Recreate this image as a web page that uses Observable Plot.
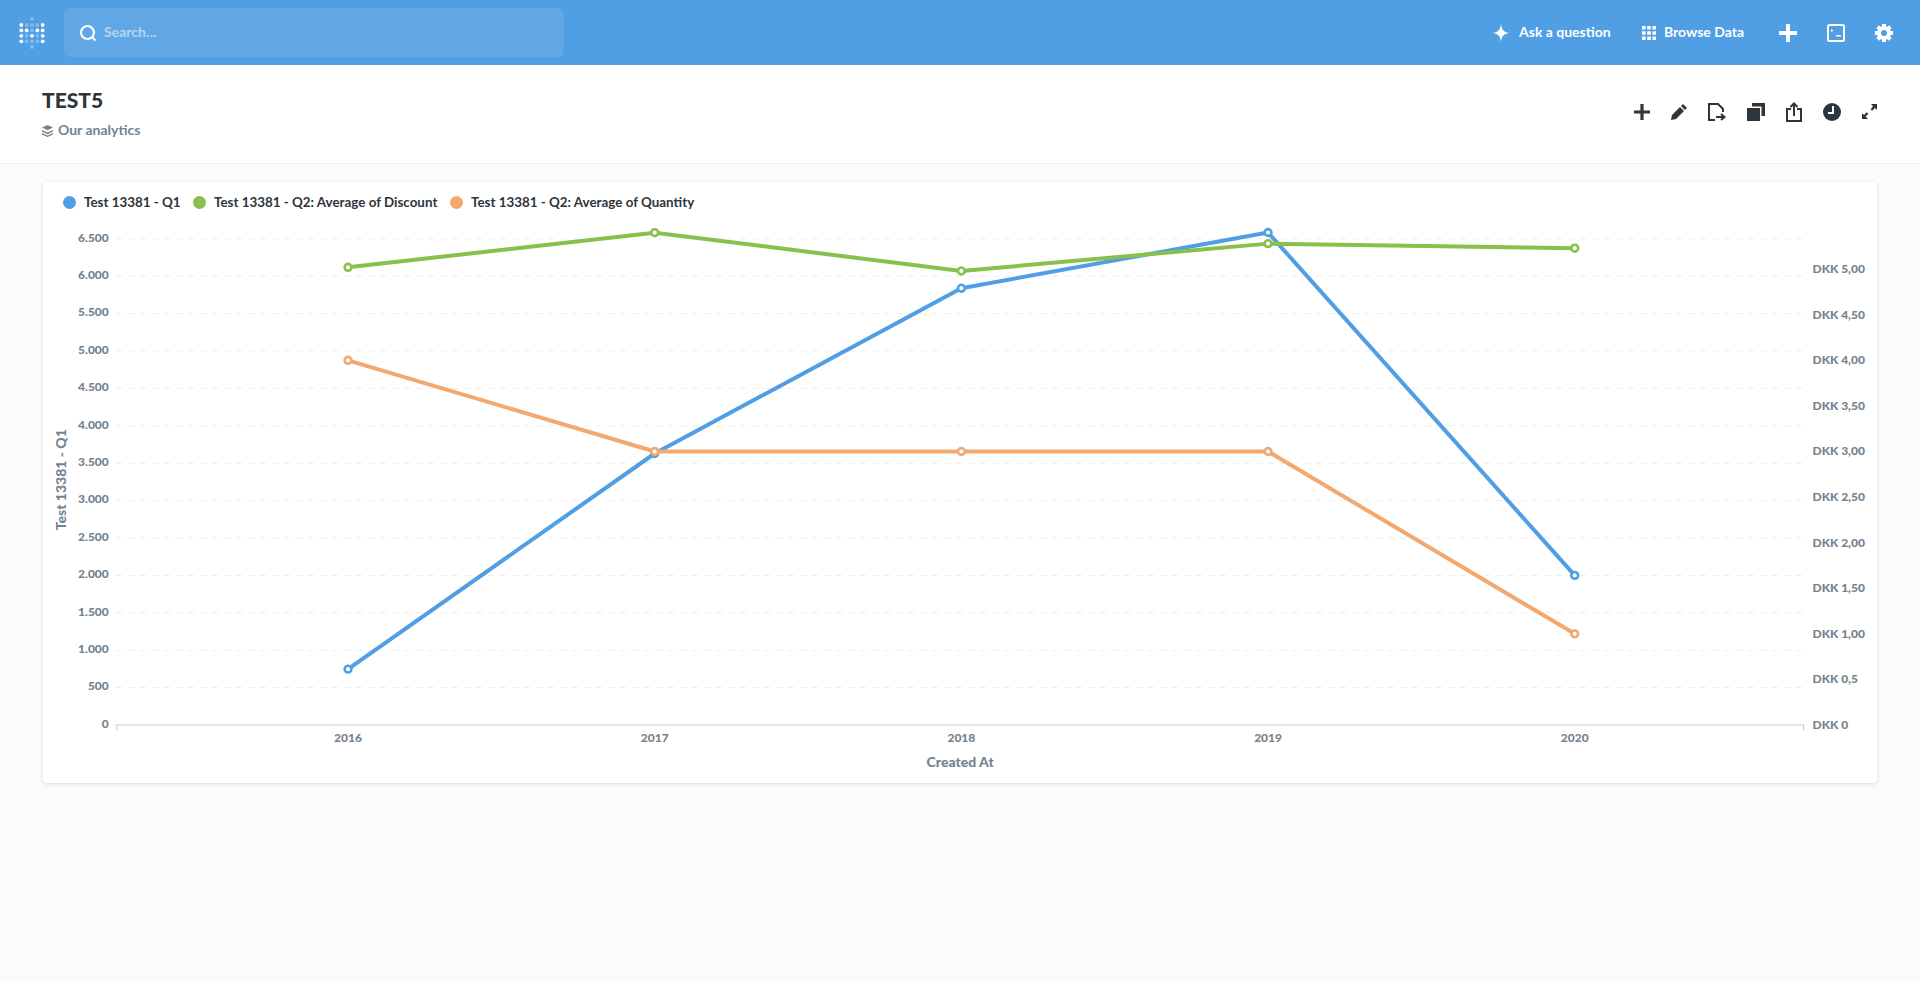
<!DOCTYPE html>
<html>
<head>
<meta charset="utf-8">
<script src="https://cdn.jsdelivr.net/npm/d3@7"></script>
<script src="https://cdn.jsdelivr.net/npm/@observablehq/plot@0.6"></script>
<style>
html,body{margin:0;padding:0;width:1920px;height:982px;overflow:hidden;background:#f9fbfc;font-family:Lato,sans-serif;}
.abs{position:absolute;white-space:nowrap;}
#nav{position:absolute;left:0;top:0;width:1920px;height:65px;background:#509ee3;}
#band{position:absolute;left:0;top:65px;width:1920px;height:98px;background:#fff;border-bottom:1px solid #eceff1;}
#search{position:absolute;left:64px;top:8px;width:500px;height:49px;border-radius:6px;background:rgba(255,255,255,.1);}
#card{position:absolute;left:43px;top:182px;width:1834px;height:601px;background:#fff;border-radius:4px;box-shadow:0 1px 4px rgba(0,0,0,.12);}
#chart{position:absolute;left:43px;top:215px;}
.nt{font-size:14px;font-weight:700;color:#fff;line-height:18px;}
.lg{font-size:13.4px;font-weight:700;color:#2e353b;line-height:18px;}
.dot{position:absolute;width:13px;height:13px;border-radius:50%;}
svg.ic{position:absolute;overflow:visible;}
</style>
</head>
<body>
<div id="nav"><div id="search"></div></div>
<div id="band"></div>
<div id="card"></div>
<div id="chart"></div>

<!-- nav -->
<svg class="ic" id="logo" style="left:0;top:0" width="64" height="65"></svg>
<svg class="ic" style="left:79px;top:24px" width="18" height="18" viewBox="0 0 18 18" fill="none" stroke="#fff" stroke-width="2.2"><circle cx="8.5" cy="8.5" r="6.5"/><path d="M13 13l3.5 3.5"/></svg>
<div class="abs nt" style="left:104px;top:23px;color:rgba(255,255,255,.55);font-weight:700">Search…</div>
<svg class="ic" style="left:1492px;top:24px" width="18" height="18" viewBox="0 0 18 18" fill="#fff"><path d="M9 0C9.6 6 12 8.4 18 9 12 9.6 9.6 12 9 18 8.4 12 6 9.6 0 9 6 8.4 8.4 6 9 0z"/></svg>
<div class="abs nt" style="left:1519px;top:23px">Ask a question</div>
<svg class="ic" style="left:1642px;top:26px" width="14" height="14" viewBox="0 0 14 14" fill="#fff"><path d="M0 0h3.6v3.6H0zM5.2 0h3.6v3.6H5.2zM10.4 0H14v3.6h-3.6zM0 5.2h3.6v3.6H0zM5.2 5.2h3.6v3.6H5.2zM10.4 5.2H14v3.6h-3.6zM0 10.4h3.6V14H0zM5.2 10.4h3.6V14H5.2zM10.4 10.4H14V14h-3.6z"/></svg>
<div class="abs nt" style="left:1664px;top:23px">Browse Data</div>
<svg class="ic" style="left:1779px;top:24px" width="18" height="18" viewBox="0 0 18 18" fill="#fff"><path d="M7 0h4v7h7v4h-7v7H7v-7H0V7h7z"/></svg>
<svg class="ic" style="left:1827px;top:24px" width="18" height="18" viewBox="0 0 18 18"><rect x="1" y="1" width="16" height="16" rx="1.5" fill="none" stroke="#fff" stroke-width="2"/><path d="M4 5l2.5 1.5L4 8zM9 11h5v1.6H9z" fill="#fff"/></svg>
<svg class="ic" style="left:1875px;top:24px" width="18" height="18" viewBox="0 0 18 18"><g fill="#fff"><circle cx="9" cy="9" r="7"/><g><rect x="7" y="0" width="4" height="18"/><rect x="7" y="0" width="4" height="18" transform="rotate(45 9 9)"/><rect x="7" y="0" width="4" height="18" transform="rotate(90 9 9)"/><rect x="7" y="0" width="4" height="18" transform="rotate(135 9 9)"/></g></g><circle cx="9" cy="9" r="3" fill="#509ee3"/></svg>

<!-- title band -->
<div class="abs" style="left:42px;top:87px;font-size:21px;font-weight:900;color:#2e353b;line-height:26px">TEST5</div>
<svg class="ic" style="left:42px;top:125px" width="11" height="12" viewBox="0 0 11 12" fill="#74838f"><path d="M5.5 0L11 2.6 5.5 5.2 0 2.6zM0 5l5.5 2.6L11 5v1.6L5.5 9.2 0 6.6zM0 8l5.5 2.4L11 8v1.6L5.5 12 0 9.6z"/></svg>
<div class="abs" style="left:58px;top:121px;font-size:14px;font-weight:700;color:#74838f;line-height:18px">Our analytics</div>
<svg class="ic" style="left:1634px;top:104px" width="16" height="16" viewBox="0 0 16 16" fill="#2e353b"><path d="M6.4 0h3.2v6.4H16v3.2H9.6V16H6.4V9.6H0V6.4h6.4z"/></svg>
<svg class="ic" style="left:1671px;top:104px" width="16" height="16" viewBox="0 0 16 16" fill="#2e353b"><path d="M12 0l4 4-2 2-4-4zM9 3l4 4-8 8-5 1 1-5z"/></svg>
<svg class="ic" style="left:1708px;top:103px" width="17" height="18" viewBox="0 0 17 18" fill="none" stroke="#2e353b" stroke-width="2"><path d="M7 17H1V1h9l5 5v3"/><path d="M8 14h8M13 11l3.5 3-3.5 3" fill="none"/></svg>
<svg class="ic" style="left:1747px;top:103px" width="18" height="18" viewBox="0 0 18 18" fill="#2e353b"><path d="M0 5h13v13H0z"/><path d="M5 0h13v13h-3.5V3.5H5z"/></svg>
<svg class="ic" style="left:1786px;top:102px" width="16" height="20" viewBox="0 0 16 20" fill="none" stroke="#2e353b" stroke-width="2"><path d="M5 7H1v12h14V7h-4M8 14V2M4.5 5L8 1.5 11.5 5"/></svg>
<svg class="ic" style="left:1823px;top:103px" width="18" height="18" viewBox="0 0 18 18"><circle cx="9" cy="9" r="9" fill="#2e353b"/><path d="M10 3v7H5" fill="none" stroke="#fff" stroke-width="2"/></svg>
<svg class="ic" style="left:1862px;top:104px" width="15" height="15" viewBox="0 0 15 15" fill="#2e353b"><path d="M9 0h6v6l-2-2-2.8 2.8-1.6-1.6L11 2.4zM0 9l2 2 2.8-2.8 1.6 1.6L3.6 12.6 6 15H0z"/></svg>

<!-- legend -->
<div class="dot" style="left:63px;top:196px;background:#509ee3"></div>
<div class="abs lg" style="left:84px;top:193px">Test 13381 - Q1</div>
<div class="dot" style="left:193px;top:196px;background:#88bf4d"></div>
<div class="abs lg" style="left:214px;top:193px">Test 13381 - Q2: Average of Discount</div>
<div class="dot" style="left:450px;top:196px;background:#f2a86f"></div>
<div class="abs lg" style="left:471px;top:193px">Test 13381 - Q2: Average of Quantity</div>

<script>
// --- data ---
const years = [2016, 2017, 2018, 2019, 2020];
const q1Count = [747, 3630, 5840, 6585, 2000];
const avgDiscount = [5.02, 5.40, 4.98, 5.28, 5.23];
const avgQuantity = [4.00, 3.00, 3.00, 3.00, 1.00];
const leftTicks = [0, 500, 1000, 1500, 2000, 2500, 3000, 3500, 4000, 4500, 5000, 5500, 6000, 6500];
const rightTicks = [0, 0.5, 1, 1.5, 2, 2.5, 3, 3.5, 4, 4.5, 5];
const rightLabels = ["DKK 0", "DKK 0,5", "DKK 1,00", "DKK 1,50", "DKK 2,00", "DKK 2,50", "DKK 3,00", "DKK 3,50", "DKK 4,00", "DKK 4,50", "DKK 5,00"];
const names = ["Test 13381 - Q1", "Test 13381 - Q2: Average of Discount", "Test 13381 - Q2: Average of Quantity"];
const colors = ["#509ee3", "#88bf4d", "#f2a86f"];

// the right-hand (DKK) axis shares the frame: 1 DKK spans this many units of the left axis
const dkkToLeft = 1219;

const rows = (vals, scale, name) => vals.map((v, i) => ({year: years[i], y: v * scale, name}));
const series = [rows(q1Count, 1, names[0]), rows(avgDiscount, dkkToLeft, names[1]), rows(avgQuantity, dkkToLeft, names[2])];

const thousands = d3.formatLocale({decimal: ",", thousands: ".", grouping: [3], currency: ["", ""]}).format(",d");
const tickColor = "#74838f";
const xMin = 2015.246, xMax = 2020.746;

const marks = [
  Plot.gridY(leftTicks.slice(1), {stroke: "#ededed", strokeOpacity: 1, strokeDasharray: "6 6"}),
  Plot.ruleY([0], {stroke: "#c5cbd3", strokeWidth: 1}),
  Plot.ruleX([xMin, xMax], {y1: 0, y2: -82, stroke: "#c5cbd3"}),
  Plot.axisX({ticks: years, tickFormat: d3.format("d"), tickSize: 0, tickPadding: 8, label: null, fill: tickColor, fontWeight: 900, fontSize: 12}),
  Plot.axisY({ticks: leftTicks, tickFormat: thousands, tickSize: 0, tickPadding: 8, dy: -1, label: null, fill: tickColor, fontWeight: 900, fontSize: 12}),
  Plot.axisY(rightTicks.map(d => d * dkkToLeft), {anchor: "right", tickFormat: v => rightLabels[Math.round(v / dkkToLeft * 2)], tickSize: 0, tickPadding: 9, label: null, fill: tickColor, fontWeight: 900, fontSize: 12}),
  Plot.text(["Created At"], {frameAnchor: "bottom", textAnchor: "middle", lineAnchor: "middle", dy: 38, fill: tickColor, fontWeight: 900, fontSize: 14}),
  Plot.text([names[0]], {frameAnchor: "left", textAnchor: "middle", lineAnchor: "middle", rotate: -90, dx: -55, dy: 1, fill: tickColor, fontWeight: 900, fontSize: 14})
];
series.forEach((s, i) => {
  marks.push(Plot.line(s, {x: "year", y: "y", stroke: colors[i], strokeWidth: 4}));
  marks.push(Plot.dot(s, {x: "year", y: "y", r: 3.4, fill: "#fff", stroke: colors[i], strokeWidth: 2.6}));
});

const chart = Plot.plot({
  width: 1834,
  height: 560,
  marginLeft: 73.3,
  marginRight: 74,
  marginTop: 17,
  marginBottom: 50.5,
  style: {background: "transparent", fontFamily: "Lato, sans-serif", overflow: "visible"},
  x: {type: "linear", domain: [xMin, xMax]},
  y: {domain: [0, 6585]},
  marks
});
document.getElementById("chart").appendChild(chart);

// logo dots
const logo = d3.select("#logo");
const lx = [21.3, 26.7, 32, 37.3, 42.7];
const ly = [25, 30.4, 35.8, 41.3];
const strong = new Set(["0,0","0,4","1,0","1,1","1,3","1,4","2,0","2,2","2,4","3,0","3,4"]);
ly.forEach((y, r) => lx.forEach((x, c) => {
  logo.append("circle").attr("cx", x).attr("cy", y).attr("r", 1.9).attr("fill", "#fff").attr("fill-opacity", strong.has(r + "," + c) ? 1 : 0.3);
}));
logo.append("circle").attr("cx", 32).attr("cy", 19).attr("r", 1.9).attr("fill", "#fff").attr("fill-opacity", 0.3);
logo.append("circle").attr("cx", 32).attr("cy", 47).attr("r", 1.9).attr("fill", "#fff").attr("fill-opacity", 0.3);
</script>
</body>
</html>
